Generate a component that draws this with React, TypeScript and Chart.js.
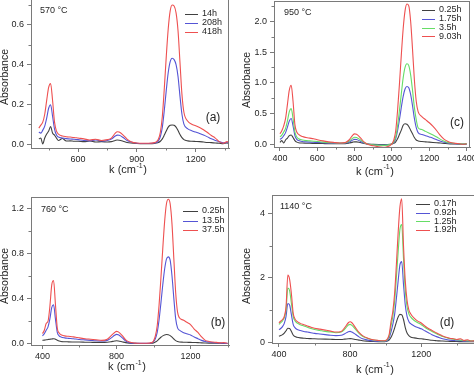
import React, { useEffect, useRef } from "react";
import { Chart, registerables } from "chart.js";

Chart.register(...registerables);

const FONT = '"Liberation Sans", Arial, Helvetica, sans-serif';
const AXIS = "#7a7a7a";
const TEXT = "#262626";
const C_BLACK = "#404040";
const C_BLUE = "#5555d5";
const C_GREEN = "#66dd66";
const C_RED = "#ee5050";

// wavenumber grid (cm-1)
const K = [
  400, 410, 420, 430, 440, 450, 460, 470, 480, 490,
  500, 520, 540, 560, 580, 600, 630, 660, 690, 720,
  750, 770, 790, 800, 810, 830, 850, 870, 900, 930,
  960, 990, 1000, 1010, 1020, 1030, 1040, 1050, 1060, 1070,
  1080, 1090, 1100, 1110, 1120, 1130, 1140, 1160, 1180, 1200,
  1220, 1240, 1260, 1280, 1300, 1320, 1340, 1360, 1380, 1400,
];
const K_D = [...K, 1420, 1440, 1460, 1480, 1500];

// (a) 570 °C
const A_14H = [
  0.025, 0.03, 0.0, 0.03, 0.05, 0.065, 0.088, 0.055, 0.045, 0.03,
  0.018, 0.028, 0.015, 0.016, 0.014, 0.014, 0.012, 0.015, 0.01, 0.012,
  0.01, 0.012, 0.018, 0.02, 0.019, 0.014, 0.008, 0.005, 0.003, 0.002,
  0.002, 0.003, 0.005, 0.008, 0.014, 0.026, 0.045, 0.066, 0.085, 0.094,
  0.096, 0.094, 0.085, 0.068, 0.048, 0.032, 0.022, 0.016, 0.014, 0.013,
  0.012, 0.01, 0.008, 0.007, 0.005, 0.004, 0.002, 0.006, 0.0, 0.002,
];
const A_208H = [
  0.06, 0.055, 0.07, 0.09, 0.13, 0.18, 0.198, 0.14, 0.075, 0.045,
  0.035, 0.03, 0.027, 0.025, 0.024, 0.022, 0.018, 0.016, 0.02, 0.015,
  0.018, 0.025, 0.04, 0.045, 0.044, 0.033, 0.018, 0.01, 0.004, 0.003,
  0.003, 0.005, 0.008, 0.016, 0.038, 0.085, 0.17, 0.27, 0.36, 0.415,
  0.432, 0.425, 0.4, 0.34, 0.24, 0.15, 0.1, 0.076, 0.067, 0.06,
  0.053, 0.045, 0.036, 0.026, 0.018, 0.012, 0.006, 0.008, 0.002, 0.004,
];
const A_418H = [
  0.08, 0.095, 0.11, 0.15, 0.22, 0.285, 0.305, 0.22, 0.11, 0.065,
  0.05, 0.04, 0.037, 0.035, 0.033, 0.03, 0.026, 0.02, 0.024, 0.018,
  0.022, 0.03, 0.055, 0.062, 0.06, 0.045, 0.025, 0.012, 0.005, 0.004,
  0.004, 0.007, 0.012, 0.025, 0.06, 0.14, 0.28, 0.44, 0.58, 0.67,
  0.7, 0.695, 0.66, 0.57, 0.41, 0.25, 0.16, 0.115, 0.1, 0.092,
  0.083, 0.072, 0.058, 0.043, 0.03, 0.012, 0.004, 0.012, 0.0, 0.002,
];

// (b) 760 °C
const B_025H = [
  0.03, 0.032, 0.035, 0.037, 0.04, 0.042, 0.045, 0.04, 0.032, 0.025,
  0.02, 0.018, 0.017, 0.016, 0.015, 0.015, 0.014, 0.013, 0.012, 0.012,
  0.014, 0.018, 0.024, 0.026, 0.025, 0.018, 0.01, 0.006, 0.003, 0.002,
  0.002, 0.004, 0.008, 0.015, 0.026, 0.042, 0.058, 0.07, 0.078, 0.082,
  0.08, 0.072, 0.058, 0.042, 0.028, 0.02, 0.016, 0.014, 0.013, 0.012,
  0.011, 0.01, 0.008, 0.007, 0.006, 0.005, 0.004, 0.003, 0.002, 0.002,
];
const B_135H = [
  0.07, 0.09, 0.12, 0.15, 0.22, 0.32, 0.345, 0.22, 0.1, 0.07,
  0.06, 0.052, 0.048, 0.045, 0.042, 0.038, 0.034, 0.03, 0.026, 0.024,
  0.03, 0.05, 0.075, 0.083, 0.08, 0.055, 0.025, 0.01, 0.004, 0.003,
  0.003, 0.008, 0.018, 0.045, 0.1, 0.21, 0.36, 0.52, 0.66, 0.75,
  0.77, 0.74, 0.6, 0.4, 0.22, 0.14, 0.12, 0.1, 0.088, 0.078,
  0.06, 0.045, 0.03, 0.02, 0.015, 0.01, 0.008, 0.006, 0.004, 0.003,
];
const B_375H = [
  0.09, 0.12, 0.18, 0.2, 0.33, 0.52, 0.56, 0.35, 0.14, 0.095,
  0.08, 0.07, 0.066, 0.062, 0.058, 0.052, 0.045, 0.04, 0.035, 0.03,
  0.04, 0.07, 0.1, 0.11, 0.105, 0.075, 0.035, 0.015, 0.006, 0.004,
  0.004, 0.01, 0.025, 0.07, 0.16, 0.34, 0.58, 0.84, 1.08, 1.24,
  1.28, 1.24, 1.06, 0.75, 0.45, 0.28, 0.23, 0.21, 0.19, 0.17,
  0.13, 0.1, 0.06, 0.03, 0.02, 0.015, 0.012, 0.008, 0.01, 0.005,
];

// (c) 950 °C
const C_025H = [
  0.03, 0.06, 0.02, 0.07, 0.1, 0.14, 0.15, 0.11, 0.06, 0.035,
  0.025, 0.02, 0.018, 0.016, 0.015, 0.014, 0.012, 0.01, 0.01, 0.008,
  0.01, 0.02, 0.035, 0.04, 0.04, 0.028, 0.012, 0.003, -0.002, -0.004,
  -0.004, 0.0, 0.005, 0.015, 0.04, 0.09, 0.16, 0.23, 0.31, 0.335,
  0.325, 0.29, 0.23, 0.17, 0.11, 0.07, 0.055, 0.045, 0.04, 0.035,
  0.03, 0.025, 0.02, 0.015, 0.01, 0.006, 0.004, 0.002, 0.0, 0.002,
];
const C_175H = [
  0.08, 0.1, 0.14, 0.19, 0.28, 0.38, 0.42, 0.3, 0.14, 0.08,
  0.06, 0.045, 0.04, 0.036, 0.033, 0.03, 0.025, 0.022, 0.018, 0.015,
  0.02, 0.035, 0.07, 0.08, 0.078, 0.05, 0.02, 0.003, -0.008, -0.012,
  -0.012, -0.004, 0.008, 0.03, 0.09, 0.22, 0.4, 0.6, 0.78, 0.9,
  0.94, 0.92, 0.81, 0.63, 0.42, 0.27, 0.19, 0.16, 0.14, 0.12,
  0.1, 0.075, 0.05, 0.032, 0.02, 0.012, 0.008, 0.005, 0.002, 0.005,
];
const C_35H = [
  0.12, 0.15, 0.2, 0.26, 0.38, 0.53, 0.58, 0.42, 0.2, 0.12,
  0.09, 0.07, 0.06, 0.055, 0.05, 0.045, 0.035, 0.03, 0.025, 0.02,
  0.025, 0.05, 0.1, 0.115, 0.11, 0.075, 0.03, 0.005, -0.01, -0.015,
  -0.018, -0.005, 0.01, 0.04, 0.12, 0.3, 0.55, 0.82, 1.08, 1.25,
  1.31, 1.28, 1.13, 0.88, 0.6, 0.4, 0.27, 0.24, 0.21, 0.18,
  0.15, 0.12, 0.08, 0.05, 0.03, 0.02, 0.012, 0.008, 0.004, 0.008,
];
const C_903H = [
  0.17, 0.22, 0.3, 0.42, 0.65, 0.88, 0.96, 0.7, 0.32, 0.2,
  0.16, 0.125, 0.11, 0.1, 0.09, 0.075, 0.055, 0.04, 0.03, 0.022,
  0.03, 0.07, 0.15, 0.17, 0.165, 0.11, 0.04, 0.0, -0.025, -0.04,
  -0.05, -0.02, 0.01, 0.07, 0.22, 0.55, 0.98, 1.45, 1.88, 2.17,
  2.28, 2.25, 2.0, 1.55, 1.05, 0.7, 0.53, 0.45, 0.4, 0.35,
  0.29, 0.22, 0.14, 0.08, 0.045, 0.025, 0.015, 0.01, 0.0, 0.01,
];

// (d) 1140 °C
const D_017H = [
  0.18, 0.2, 0.23, 0.28, 0.35, 0.43, 0.42, 0.33, 0.22, 0.17,
  0.15, 0.13, 0.12, 0.11, 0.105, 0.1, 0.095, 0.09, 0.085, 0.08,
  0.08, 0.09, 0.1, 0.105, 0.1, 0.08, 0.06, 0.04, 0.025, 0.015,
  0.01, 0.01, 0.015, 0.03, 0.07, 0.15, 0.27, 0.43, 0.62, 0.78,
  0.86, 0.85, 0.7, 0.45, 0.28, 0.2, 0.16, 0.13, 0.11, 0.1,
  0.085, 0.07, 0.055, 0.045, 0.035, 0.03, 0.025, 0.02, 0.015, 0.015,
  0.012, 0.01, 0.01, 0.008, 0.008,
];
const D_092H = [
  0.38, 0.42, 0.48, 0.58, 0.8, 1.2, 1.15, 0.85, 0.55, 0.45,
  0.4, 0.36, 0.33, 0.31, 0.29, 0.27, 0.25, 0.23, 0.21, 0.2,
  0.21, 0.26, 0.32, 0.33, 0.31, 0.24, 0.16, 0.1, 0.06, 0.035,
  0.025, 0.02, 0.025, 0.05, 0.13, 0.32, 0.55, 0.85, 1.35, 1.9,
  2.4, 2.5, 1.8, 1.15, 0.8, 0.64, 0.57, 0.5, 0.45, 0.41,
  0.35, 0.29, 0.23, 0.18, 0.14, 0.1, 0.08, 0.06, 0.05, 0.04,
  0.04, 0.03, 0.03, 0.02, 0.02,
];
const D_125H = [
  0.55, 0.6, 0.66, 0.75, 1.0, 1.68, 1.6, 1.2, 0.8, 0.66,
  0.6, 0.54, 0.5, 0.46, 0.42, 0.39, 0.36, 0.33, 0.31, 0.29,
  0.31, 0.4, 0.53, 0.55, 0.52, 0.4, 0.27, 0.18, 0.11, 0.065,
  0.045, 0.035, 0.04, 0.08, 0.2, 0.5, 0.8, 1.25, 2.0, 2.8,
  3.5, 3.65, 2.6, 1.6, 1.1, 0.88, 0.78, 0.67, 0.6, 0.54,
  0.46, 0.39, 0.33, 0.27, 0.22, 0.17, 0.14, 0.11, 0.09, 0.07,
  0.06, 0.05, 0.04, 0.035, 0.03,
];
const D_192H = [
  0.6, 0.65, 0.7, 0.8, 1.1, 2.08, 1.95, 1.5, 0.9, 0.72,
  0.65, 0.58, 0.54, 0.5, 0.46, 0.43, 0.4, 0.37, 0.34, 0.31,
  0.33, 0.45, 0.6, 0.63, 0.6, 0.45, 0.3, 0.2, 0.12, 0.07,
  0.05, 0.04, 0.05, 0.1, 0.25, 0.64, 0.95, 1.5, 2.4, 3.4,
  4.2, 4.45, 3.0, 1.9, 1.3, 1.0, 0.88, 0.74, 0.65, 0.59,
  0.5, 0.42, 0.36, 0.3, 0.24, 0.19, 0.15, 0.12, 0.1, 0.08,
  0.1, 0.05, 0.07, 0.03, 0.04,
];

type Series = { label: string; color: string; values: number[] };
type PanelDef = {
  box: { x: number; y: number; w: number; h: number };
  area: { l: number; r: number; t: number; b: number };
  k: number[];
  xMin: number; xMax: number; yMin: number; yMax: number;
  xMajor: number[]; xMinor: number[]; yMajor: number[]; yMinor: number[];
  yDec: number;
  title: string; titlePos: [number, number];
  series: Series[];
  legend: { x1: number; x2: number; tx: number; rows: number[] };
  tag: string; tagPos: [number, number];
  yTitlePos: [number, number]; xTitlePos: [number, number];
  topBorder: boolean; rightBorder: boolean;
};

const PANELS: PanelDef[] = [
  {
    box: { x: 0, y: -10, w: 237, h: 195 },
    area: { l: 31, r: 229, t: -2, b: 148 },
    k: K, xMin: 360, xMax: 1370, yMin: -0.02, yMax: 0.735,
    xMajor: [600, 900, 1200], xMinor: [450, 750, 1050, 1350],
    yMajor: [0, 0.2, 0.4, 0.6], yMinor: [0.1, 0.3, 0.5, 0.7], yDec: 1,
    title: "570 °C", titlePos: [40, 11],
    series: [
      { label: "14h", color: C_BLACK, values: A_14H },
      { label: "208h", color: C_BLUE, values: A_208H },
      { label: "418h", color: C_RED, values: A_418H },
    ],
    legend: { x1: 185, x2: 198, tx: 202, rows: [14, 23, 32] },
    tag: "(a)", tagPos: [213, 118],
    yTitlePos: [5, 77], xTitlePos: [128, 170],
    topBorder: false, rightBorder: true,
  },
  {
    box: { x: 237, y: -5, w: 237, h: 190 },
    area: { l: 274, r: 470, t: 1, b: 147 },
    k: K, xMin: 368, xMax: 1418, yMin: -0.044, yMax: 2.33,
    xMajor: [400, 600, 800, 1000, 1200, 1400], xMinor: [500, 700, 900, 1100, 1300],
    yMajor: [0, 0.5, 1, 1.5, 2], yMinor: [0.25, 0.75, 1.25, 1.75, 2.25], yDec: 1,
    title: "950 °C", titlePos: [284, 13],
    series: [
      { label: "0.25h", color: C_BLACK, values: C_025H },
      { label: "1.75h", color: C_BLUE, values: C_175H },
      { label: "3.5h", color: C_GREEN, values: C_35H },
      { label: "9.03h", color: C_RED, values: C_903H },
    ],
    legend: { x1: 422, x2: 435, tx: 439, rows: [10, 19, 27.7, 36.3] },
    tag: "(c)", tagPos: [457, 123],
    yTitlePos: [247, 80], xTitlePos: [375, 171.5],
    topBorder: true, rightBorder: true,
  },
  {
    box: { x: 0, y: 188, w: 237, h: 189 },
    area: { l: 31, r: 229, t: 197, b: 345 },
    k: K, xMin: 338, xMax: 1408, yMin: -0.011, yMax: 1.3,
    xMajor: [400, 800, 1200], xMinor: [600, 1000, 1400],
    yMajor: [0, 0.4, 0.8, 1.2], yMinor: [0.2, 0.6, 1.0], yDec: 1,
    title: "760 °C", titlePos: [41, 210],
    series: [
      { label: "0.25h", color: C_BLACK, values: B_025H },
      { label: "13.5h", color: C_BLUE, values: B_135H },
      { label: "37.5h", color: C_RED, values: B_375H },
    ],
    legend: { x1: 183, x2: 198, tx: 202, rows: [211, 220.5, 230] },
    tag: "(b)", tagPos: [218, 323],
    yTitlePos: [5, 276], xTitlePos: [127, 367],
    topBorder: true, rightBorder: true,
  },
  {
    box: { x: 237, y: 188, w: 260, h: 189 },
    area: { l: 272, r: 480, t: 195, b: 343 },
    k: K_D, xMin: 361, xMax: 1530, yMin: -0.03, yMax: 4.57,
    xMajor: [400, 800, 1200], xMinor: [600, 1000, 1400],
    yMajor: [0, 2, 4], yMinor: [1, 3], yDec: 0,
    title: "1140 °C", titlePos: [280, 207],
    series: [
      { label: "0.17h", color: C_BLACK, values: D_017H },
      { label: "0.92h", color: C_BLUE, values: D_092H },
      { label: "1.25h", color: C_GREEN, values: D_125H },
      { label: "1.92h", color: C_RED, values: D_192H },
    ],
    legend: { x1: 416, x2: 430, tx: 434, rows: [204, 212.7, 221.3, 230] },
    tag: "(d)", tagPos: [447, 323],
    yTitlePos: [247, 276], xTitlePos: [375, 369.5],
    topBorder: true, rightBorder: false,
  },
];

const decoPlugin = {
  id: "deco",
  afterDraw(chart: any, _args: any, opts: any) {
    const p: PanelDef = opts.panel;
    if (!p) return;
    const ctx = chart.ctx as CanvasRenderingContext2D;
    const { left, right, top, bottom } = chart.chartArea;
    const ox = p.box.x;
    const oy = p.box.y;
    ctx.save();
    ctx.strokeStyle = AXIS;
    ctx.lineWidth = 1;
    ctx.beginPath();
    if (p.topBorder) {
      ctx.moveTo(left, Math.round(top) + 0.5);
      ctx.lineTo(right, Math.round(top) + 0.5);
    }
    if (p.rightBorder) {
      ctx.moveTo(Math.round(right) - 0.5, top);
      ctx.lineTo(Math.round(right) - 0.5, bottom);
    }
    const xs = chart.scales.x;
    const ys = chart.scales.y;
    for (const v of p.xMinor) {
      const px = Math.round(xs.getPixelForValue(v)) + 0.5;
      if (px < left || px > right) continue;
      ctx.moveTo(px, bottom);
      ctx.lineTo(px, bottom + 2.5);
    }
    for (const v of p.yMinor) {
      const py = Math.round(ys.getPixelForValue(v)) + 0.5;
      if (py < top || py > bottom) continue;
      ctx.moveTo(left, py);
      ctx.lineTo(left - 2.5, py);
    }
    ctx.stroke();

    ctx.fillStyle = TEXT;
    ctx.font = `9px ${FONT}`;
    ctx.textAlign = "left";
    ctx.textBaseline = "middle";
    ctx.fillText(p.title, p.titlePos[0] - ox, p.titlePos[1] - oy);

    p.series.forEach((s, i) => {
      const y = p.legend.rows[i] - oy;
      ctx.strokeStyle = s.color;
      ctx.beginPath();
      ctx.moveTo(p.legend.x1 - ox, Math.round(y) + 0.5);
      ctx.lineTo(p.legend.x2 - ox, Math.round(y) + 0.5);
      ctx.stroke();
      ctx.fillStyle = TEXT;
      ctx.fillText(s.label, p.legend.tx - ox, y);
    });

    ctx.font = `12px ${FONT}`;
    ctx.textAlign = "center";
    ctx.fillText(p.tag, p.tagPos[0] - ox, p.tagPos[1] - oy);

    ctx.save();
    ctx.translate(p.yTitlePos[0] - ox, p.yTitlePos[1] - oy);
    ctx.rotate(-Math.PI / 2);
    ctx.font = `10.5px ${FONT}`;
    ctx.textAlign = "center";
    ctx.fillText("Absorbance", 0, 0);
    ctx.restore();

    const main = "k (cm";
    const sup = "-1";
    const tail = ")";
    ctx.textAlign = "left";
    ctx.font = `11px ${FONT}`;
    const w1 = ctx.measureText(main).width;
    const w3 = ctx.measureText(tail).width;
    ctx.font = `7px ${FONT}`;
    const w2 = ctx.measureText(sup).width;
    const total = w1 + w2 + w3 + 1;
    let x = p.xTitlePos[0] - ox - total / 2;
    const y = p.xTitlePos[1] - oy;
    ctx.font = `11px ${FONT}`;
    ctx.fillText(main, x, y);
    x += w1 + 0.5;
    ctx.font = `7px ${FONT}`;
    ctx.fillText(sup, x, y - 4);
    x += w2 + 0.5;
    ctx.font = `11px ${FONT}`;
    ctx.fillText(tail, x, y);
    ctx.restore();
  },
};

function Panel({ p }: { p: PanelDef }) {
  const ref = useRef<HTMLCanvasElement | null>(null);
  useEffect(() => {
    if (!ref.current) return;
    const n = p.series.length;
    const chart = new Chart(ref.current, {
      type: "line",
      data: {
        datasets: p.series.map((s, i) => ({
          label: s.label,
          data: p.k.map((x, j) => ({ x, y: s.values[j] })),
          borderColor: s.color,
          backgroundColor: s.color,
          borderWidth: 1.1,
          pointRadius: 0,
          cubicInterpolationMode: "monotone" as const,
          fill: false,
          order: n - 1 - i,
        })),
      },
      options: {
        animation: false,
        responsive: false,
        devicePixelRatio: 1,
        events: [],
        layout: {
          padding: {
            top: p.area.t - p.box.y,
            right: p.box.x + p.box.w - p.area.r,
            left: 0,
            bottom: 0,
          },
        },
        plugins: {
          legend: { display: false },
          tooltip: { enabled: false },
          deco: { panel: p },
        } as any,
        scales: {
          x: {
            type: "linear",
            bounds: "data",
            min: p.xMin,
            max: p.xMax,
            afterBuildTicks: (s: any) => {
              s.ticks = p.xMajor.map((v) => ({ value: v }));
            },
            afterFit: (s: any) => {
              s.height = p.box.y + p.box.h - p.area.b;
              s.paddingLeft = 0;
              s.paddingRight = 0;
            },
            ticks: {
              autoSkip: false,
              maxRotation: 0,
              minRotation: 0,
              padding: 2,
              color: TEXT,
              font: { family: FONT, size: 9 },
              callback: (v: any) => String(v),
            },
            grid: {
              drawOnChartArea: false,
              drawTicks: true,
              tickLength: 4,
              color: AXIS,
              tickColor: AXIS,
            },
            border: { display: true, color: AXIS, width: 1 },
          },
          y: {
            type: "linear",
            bounds: "data",
            min: p.yMin,
            max: p.yMax,
            afterBuildTicks: (s: any) => {
              s.ticks = p.yMajor.map((v) => ({ value: v }));
            },
            afterFit: (s: any) => {
              s.width = p.area.l - p.box.x;
              s.paddingTop = 0;
              s.paddingBottom = 0;
            },
            ticks: {
              autoSkip: false,
              padding: 3,
              color: TEXT,
              font: { family: FONT, size: 9 },
              callback: (v: any) => Number(v).toFixed(p.yDec),
            },
            grid: {
              drawOnChartArea: false,
              drawTicks: true,
              tickLength: 4,
              color: AXIS,
              tickColor: AXIS,
            },
            border: { display: true, color: AXIS, width: 1 },
          },
        },
      },
      plugins: [decoPlugin as any],
    } as any);
    return () => chart.destroy();
  }, [p]);
  return (
    <canvas
      ref={ref}
      width={p.box.w}
      height={p.box.h}
      style={{
        position: "absolute",
        left: p.box.x,
        top: p.box.y,
        width: p.box.w,
        height: p.box.h,
      }}
    />
  );
}

export default function App() {
  return (
    <div
      style={{
        position: "absolute",
        left: 0,
        top: 0,
        width: 474,
        height: 377,
        overflow: "hidden",
        background: "#ffffff",
      }}
    >
      {PANELS.map((p, i) => (
        <Panel key={i} p={p} />
      ))}
    </div>
  );
}
